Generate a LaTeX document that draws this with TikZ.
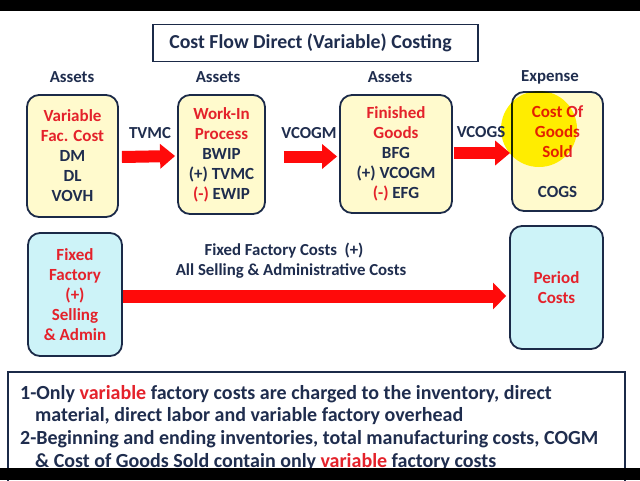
\documentclass[tikz,border=0pt]{standalone}
\usepackage{fontspec}
\setmainfont{Carlito}
\usetikzlibrary{arrows.meta}
\definecolor{navy}{HTML}{1F2D4E}
\definecolor{cred}{HTML}{E4222B}
\definecolor{boxyellow}{HTML}{FFFACD}
\definecolor{boxblue}{HTML}{CDF3F8}
\definecolor{bordernavy}{HTML}{1B2A48}
\definecolor{arrowred}{HTML}{FF0A0A}
\begin{document}
\begin{tikzpicture}[x=1pt,y=-1pt,
  every node/.style={font=\bfseries\fontsize{17}{20}\selectfont, text=navy, inner sep=0pt},
  acct/.style={draw=bordernavy, line width=1.8pt, rounded corners=12pt, align=center, anchor=center},
  ybox/.style={acct, fill=boxyellow},
  bbox/.style={acct, fill=boxblue},
  flow/.style={draw=arrowred, line width=12pt, -{Triangle[length=15pt,width=24pt]}},
  bigflow/.style={draw=arrowred, line width=13pt, -{Triangle[length=13pt,width=26pt]}},
  hd/.style={font=\bfseries\fontsize{16.8}{18}\selectfont},
  lbl/.style={font=\bfseries\fontsize{16.8}{20}\selectfont, align=center},
]
\useasboundingbox (0,0) rectangle (640,480);
\fill[white] (0,0) rectangle (640,480);

% title
\node[draw=bordernavy, line width=1.3pt, minimum width=325pt, minimum height=37pt,
      font=\bfseries\fontsize{19.8}{22}\selectfont] (title) at (315.5,43) {Cost Flow Direct (Variable) Costing\hspace*{10pt}};

% headers
\node[hd] (h1) at (72,77) {Assets};
\node[hd] (h2) at (218,77) {Assets};
\node[hd] (h3) at (390,77) {Assets};
\node[hd] (h4) at (550,77) {Expense};

% top row boxes
\node[ybox, minimum width=91pt, minimum height=122pt] (vfc) at (72.5,156)
  {\textcolor{cred}{Variable}\\\textcolor{cred}{Fac. Cost}\\DM\\DL\\VOVH};
\node[ybox, minimum width=87pt, minimum height=119pt] (wip) at (221.5,154.5)
  {\textcolor{cred}{Work-In}\\\textcolor{cred}{Process}\\BWIP\\(+) TVMC\\\textcolor{cred}{(-)} EWIP};
\node[ybox, minimum width=112pt, minimum height=118pt] (fg) at (396,154)
  {\textcolor{cred}{Finished}\\\textcolor{cred}{Goods}\\BFG\\(+) VCOGM\\\textcolor{cred}{(-)} EFG};
\node[ybox, minimum width=91pt, minimum height=119pt] (cogs) at (557.5,151.5)
  {\textcolor{cred}{Cost Of}\\\textcolor{cred}{Goods}\\\textcolor{cred}{Sold}\\[20pt]COGS};
% cursor highlight
\fill[yellow, blend mode=multiply] (539,129) circle (38pt);

% top arrows
\draw[flow] ([xshift=3pt,yshift=-1pt]vfc.east) -- ([xshift=-2pt]vfc.east -| wip.west);
\draw[flow] ([xshift=18pt,yshift=-2pt]wip.east) -- ([xshift=-2pt,yshift=-2pt]wip.east -| fg.west);
\draw[flow] ([xshift=1pt,yshift=1pt]fg.east) -- ([xshift=-1pt,yshift=1pt]fg.east -| cogs.west);
\node[lbl] (l1) at (150,133) {TVMC};
\node[lbl] (l2) at (309,133) {VCOGM};
\node[lbl] (l3) at (481,132) {VCOGS};

% bottom row boxes
\node[bbox, minimum width=94pt, minimum height=123pt] (fixed) at (75,294.5)
  {\textcolor{cred}{Fixed}\\\textcolor{cred}{Factory}\\\textcolor{cred}{(+)}\\\textcolor{cred}{Selling}\\\textcolor{cred}{\& Admin}};
\node[bbox, minimum width=93pt, minimum height=123pt] (period) at (556.5,287.5)
  {\textcolor{cred}{Period}\\\textcolor{cred}{Costs}};
\draw[bigflow] ([yshift=-1.5pt]fixed.east) -- ([xshift=-3pt,yshift=-1.5pt]fixed.east -| period.west);
\node[lbl] (l4) at (284,251) {Fixed Factory Costs~~(+)};
\node[lbl] (l5) at (291,271) {All Selling \& Administrative Costs};

% notes box
\draw[draw=bordernavy, line width=1.3pt] (8,372) rectangle (625,495);
\node[anchor=north west, align=left, font=\bfseries\fontsize{20}{22.7}\selectfont] (notes) at (20,385)
  {1-Only \textcolor{cred}{variable} factory costs are charged to the inventory, direct\\
   \hspace*{15pt}material, direct labor and variable factory overhead\\
   2-Beginning and ending inventories, total manufacturing costs, COGM\\
   \hspace*{15pt}\& Cost of Goods Sold contain only \textcolor{cred}{variable} factory costs};

% black bars
\fill[black] (0,0) rectangle (640,11);
\fill[black] (0,468) rectangle (640,480);
\end{tikzpicture}
\end{document}
